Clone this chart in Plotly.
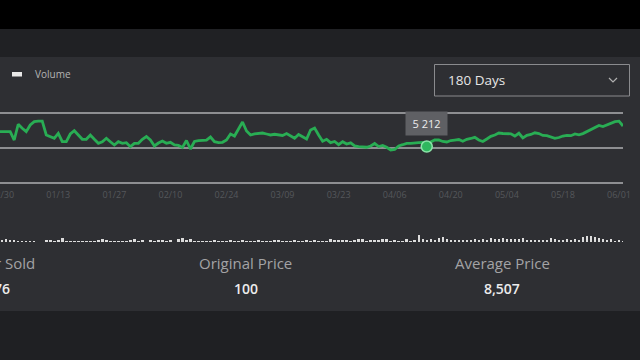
import pandas as pd
import plotly.graph_objects as go

# ---------------- data ----------------
START_DATE = "2019-12-29"
PRICE = [
    7330, 7310, 7260, 7330, 6140, 8390, 7810, 7330, 8290, 8760,
    8830, 8830, 6860, 6570, 6390, 7100, 5900, 5900, 7000, 7470,
    6860, 6240, 6240, 6860, 6240, 5670, 5900, 6390, 5900, 5430,
    5900, 5670, 5760, 5190, 5670, 5670, 6240, 6640, 6140, 5290,
    5710, 6000, 5670, 5810, 5430, 5360, 5070, 6070, 4860, 5930,
    6040, 6040, 6140, 6570, 5900, 5760, 5810, 6140, 7000, 6710,
    7710, 8710, 7430, 6860, 7030, 7100, 7140, 7000, 6860, 6960,
    6830, 6790, 7060, 6770, 6400, 6930, 6570, 6290, 7570, 7860,
    6860, 5960, 6240, 5760, 5930, 5470, 5900, 5570, 5730, 5290,
    5210, 5140, 5110, 5290, 5640, 5210, 5360, 5100, 4710, 4790,
    5290, 5470, 5670, 5670, 5670, 5770, 5790, 5212, 5860, 6140,
    6140, 5930, 5860, 6070, 6140, 6210, 5960, 6240, 6360, 6530,
    6140, 5930, 6290, 6670, 6860, 7140, 7070, 7040, 7030, 6710,
    7110, 6430, 6810, 6930, 7170, 7070, 6800, 6760, 6570, 6390,
    6500, 6710, 6800, 6760, 7000, 6890, 7060, 7370, 7630, 8000,
    8230, 8060, 8290, 8460, 8760, 8830, 8140,
]
VOLUME = [
    20, 25, 30, 25, 20, 10, 10, 10, 10, 10,
    5, 5, 20, 25, 15, 25, 40, 15, 10, 15,
    10, 15, 10, 15, 10, 20, 30, 25, 15, 10,
    10, 10, 10, 25, 30, 15, 25, 5, 20, 15,
    25, 20, 15, 20, 5, 30, 40, 20, 35, 10,
    10, 10, 15, 15, 20, 10, 15, 10, 20, 15,
    10, 25, 15, 10, 15, 20, 10, 15, 10, 20,
    25, 10, 15, 10, 20, 15, 10, 25, 15, 20,
    10, 10, 15, 30, 20, 25, 20, 25, 15, 20,
    30, 30, 15, 25, 20, 20, 30, 30, 15, 25,
    15, 10, 30, 10, 20, 70, 30, 25, 30, 20,
    40, 55, 30, 25, 25, 25, 20, 25, 20, 30,
    25, 30, 25, 45, 30, 35, 45, 30, 35, 30,
    30, 45, 25, 20, 25, 20, 20, 25, 40, 30,
    20, 25, 30, 25, 30, 25, 50, 60, 65, 55,
    40, 30, 25, 30, 15, 25, 10,
]
TICK_DATES = ["2019-12-30", "2020-01-13", "2020-01-27", "2020-02-10", "2020-02-24",
              "2020-03-09", "2020-03-23", "2020-04-06", "2020-04-20", "2020-05-04",
              "2020-05-18", "2020-06-01"]
TICK_LABELS = ["12/30", "01/13", "01/27", "02/10", "02/24", "03/09",
               "03/23", "04/06", "04/20", "05/04", "05/18", "06/01"]
Y_GRID = [0, 5000, 10000]
Y_RANGE = [-300, 10300]
HOVER_INDEX = 107
STAT_LABELS = ["Number Sold", "Original Price", "Average Price"]
STAT_VALUES = ["576", "100", "8,507"]
PERIOD_LABEL = "180 Days"
LEGEND_LABEL = "Volume"

dates = pd.date_range(START_DATE, periods=len(PRICE), freq="D")

W, H = 640, 360
def px(x):
    return x / W
def py(y):
    return 1 - y / H

FONT = "Open Sans"
GREEN = "#29ad54"

fig = go.Figure()

# price line
fig.add_trace(go.Scatter(
    x=dates, y=PRICE, mode="lines",
    line=dict(color=GREEN, width=2.8, shape="linear"),
    xaxis="x", yaxis="y", showlegend=False, hoverinfo="skip",
))
# hovered point marker
fig.add_trace(go.Scatter(
    x=[dates[HOVER_INDEX]], y=[PRICE[HOVER_INDEX]], mode="markers",
    marker=dict(size=11, color="#2fb75e", line=dict(color="#8be3a8", width=1.5)),
    xaxis="x", yaxis="y", showlegend=False, hoverinfo="skip",
))
# volume bars
fig.add_trace(go.Bar(
    x=dates, y=VOLUME, marker=dict(color="#dcdcdc", line=dict(width=0)),
    width=0.62 * 86400000, xaxis="x2", yaxis="y2",
    showlegend=False, hoverinfo="skip",
))

x_range = [pd.Timestamp(START_DATE) + pd.Timedelta(hours=10.8),
           pd.Timestamp(START_DATE) + pd.Timedelta(days=len(PRICE) - 1)]

# y domain chosen so value 0 sits at pixel 183 and 10000 at pixel 113
ppu = 70 / 10000
y_bot_px = 183 + (0 - Y_RANGE[0]) * ppu
y_top_px = 113 - (Y_RANGE[1] - 10000) * ppu

shapes = [
    dict(type="rect", xref="paper", yref="paper", x0=0, x1=1, y0=py(0), y1=py(29),
         fillcolor="#000000", line=dict(width=0), layer="below"),
    dict(type="rect", xref="paper", yref="paper", x0=0, x1=1, y0=py(29), y1=py(57),
         fillcolor="#202124", line=dict(width=0), layer="below"),
    dict(type="rect", xref="paper", yref="paper", x0=0, x1=1, y0=py(57), y1=py(311),
         fillcolor="#2e2f33", line=dict(width=0), layer="below"),
    # dropdown box
    dict(type="rect", xref="paper", yref="paper", x0=px(434.5), x1=px(629.5),
         y0=py(64.5), y1=py(96), line=dict(color="#8a8b8e", width=1),
         fillcolor="rgba(0,0,0,0)"),
    # chevron
    dict(type="path", xref="paper", yref="paper",
         path=f"M {px(609)} {py(78)} L {px(613)} {py(82)} L {px(617)} {py(78)}",
         line=dict(color="#b0b0b0", width=1.2)),
    # legend icon
    dict(type="rect", xref="paper", yref="paper", x0=px(12), x1=px(22),
         y0=py(76.5), y1=py(72), fillcolor="#e8e8e8", line=dict(width=0)),
]

annotations = [
    dict(x=px(33), y=py(74.5), xref="paper", yref="paper", text=LEGEND_LABEL,
         showarrow=False, xanchor="left", yanchor="middle",
         font=dict(family=FONT, size=10, color="#b4b4b4")),
    dict(x=px(446), y=py(80), xref="paper", yref="paper", text=PERIOD_LABEL,
         showarrow=False, xanchor="left", yanchor="middle",
         font=dict(family=FONT, size=13.5, color="#e6e6e6")),
    # tooltip
    dict(x=dates[HOVER_INDEX], y=PRICE[HOVER_INDEX], xref="x", yref="y",
         text=f"{PRICE[HOVER_INDEX]:,}".replace(",", " "),
         showarrow=True, arrowcolor="rgba(0,0,0,0)", ax=0, ay=-23,
         bgcolor="#5f6064", borderpad=5, width=31, height=13,
         font=dict(family=FONT, size=11, color="#ececec")),
]

stat_x = [37, 245.5, 502]
stat_anchor = ["right", "center", "center"]
for lab, val, sx, anc in zip(STAT_LABELS, STAT_VALUES, stat_x, stat_anchor):
    annotations.append(dict(x=px(sx), y=py(263), xref="paper", yref="paper", text=lab,
                            showarrow=False, xanchor=anc, yanchor="middle",
                            font=dict(family=FONT, size=15, color="#a3a3a5")))
    annotations.append(dict(x=px(sx if anc == "center" else 11.5), y=py(288.5), xref="paper",
                            yref="paper", text=val, showarrow=False, xanchor=anc,
                            yanchor="middle",
                            font=dict(family=FONT, size=14, color="#ececec", weight=600)))

fig.update_layout(
    width=W, height=H,
    margin=dict(l=0, r=0, t=0, b=0, autoexpand=False),
    paper_bgcolor="#1f2023",
    plot_bgcolor="rgba(0,0,0,0)",
    showlegend=False,
    hovermode=False,
    bargap=0,
    xaxis=dict(domain=[0, px(623)], type="date", range=x_range, automargin=False,
               tickvals=pd.to_datetime(TICK_DATES), ticktext=TICK_LABELS,
               showgrid=False, zeroline=False, showline=False, ticks="",
               ticklabeloverflow="allow", ticklabelstandoff=3,
               tickfont=dict(family=FONT, size=9, color="#55575b"),
               anchor="y", fixedrange=True),
    yaxis=dict(domain=[py(y_bot_px), py(y_top_px)], range=Y_RANGE, tickvals=Y_GRID,
               automargin=False,
               showticklabels=False, showgrid=True, gridcolor="#8e8f92", gridwidth=1.5,
               zeroline=False, showline=False, ticks="", anchor="x", fixedrange=True),
    xaxis2=dict(domain=[0, px(623)], type="date", range=x_range, matches="x",
                automargin=False,
                showticklabels=False, showgrid=False, zeroline=False, showline=False,
                ticks="", anchor="y2"),
    yaxis2=dict(domain=[py(242), py(232)], range=[0, 100], showticklabels=False,
                automargin=False,
                showgrid=False, zeroline=False, showline=False, ticks="", anchor="x2"),
    shapes=shapes,
    annotations=annotations,
)

fig.write_html("out.html", config={"displayModeBar": False, "staticPlot": True},
               post_script="document.body.style.margin='0';document.body.style.overflow='hidden';")
